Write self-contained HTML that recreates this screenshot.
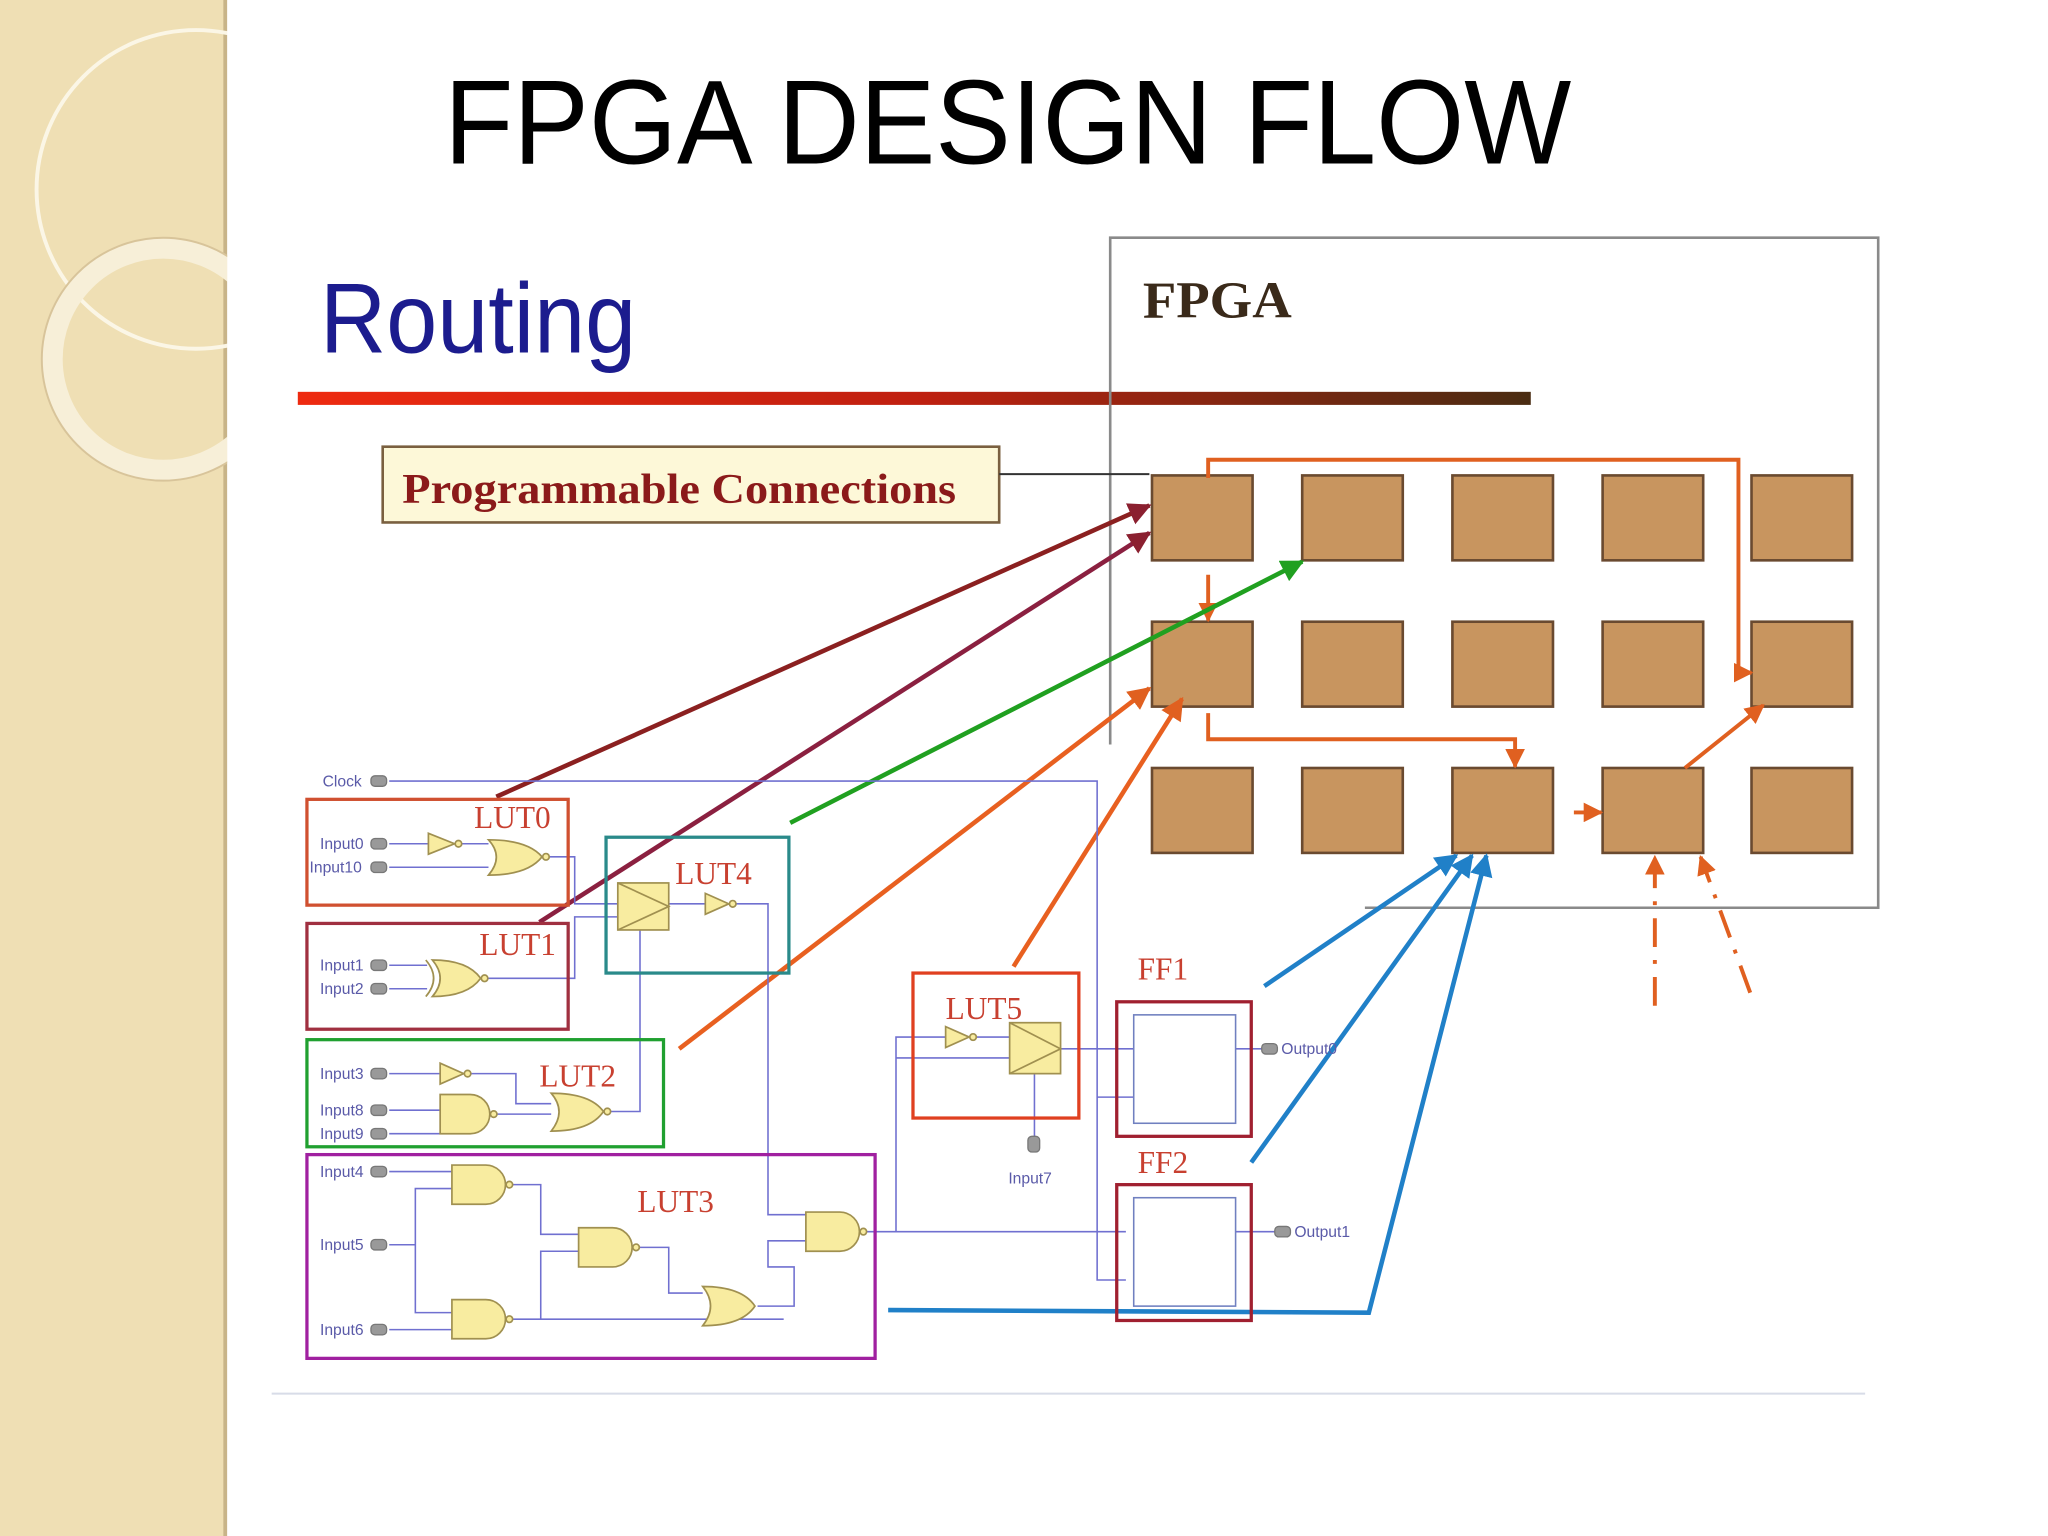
<!DOCTYPE html>
<html><head><style>
html,body{margin:0;padding:0;background:#fff;}
svg{display:block;}
</style></head><body>
<svg width="2048" height="1536" viewBox="0 0 1568 1176" preserveAspectRatio="none" xmlns="http://www.w3.org/2000/svg">
<defs>
<linearGradient id="g1" x1="0" x2="1" y1="0" y2="0">
<stop offset="0" stop-color="#ee2a10"/><stop offset="0.5" stop-color="#c02010"/><stop offset="1" stop-color="#4a2c12"/>
</linearGradient>
<marker id="ar" viewBox="0 0 10 10" refX="9" refY="5" markerWidth="5" markerHeight="5" orient="auto"><path d="M0,0L10,5L0,10z" fill="context-stroke"/></marker>
<marker id="am" viewBox="0 0 10 10" refX="9" refY="5" markerWidth="5" markerHeight="5" orient="auto"><path d="M0,0L10,5L0,10z" fill="#8b2030"/></marker>
<marker id="ag" viewBox="0 0 10 10" refX="9" refY="5" markerWidth="5" markerHeight="5" orient="auto"><path d="M0,0L10,5L0,10z" fill="#20a020"/></marker>
<marker id="ao" viewBox="0 0 10 10" refX="9" refY="5" markerWidth="5" markerHeight="5" orient="auto"><path d="M0,0L10,5L0,10z" fill="#e06020"/></marker>
<marker id="ab" viewBox="0 0 10 10" refX="9" refY="5" markerWidth="5" markerHeight="5" orient="auto"><path d="M0,0L10,5L0,10z" fill="#2080c8"/></marker>
</defs>
<rect width="1568" height="1176" fill="#fff"/>
<!-- sidebar -->
<rect x="0" y="0" width="173" height="1176" fill="#efdfb4"/>
<rect x="171" y="0" width="3" height="1176" fill="#c8b488"/>
<circle cx="150" cy="145" r="122" fill="none" stroke="#fbf6e6" stroke-width="3"/>
<circle cx="125" cy="275" r="85" fill="none" stroke="#f7efd8" stroke-width="16"/>
<circle cx="125" cy="275" r="93" fill="none" stroke="#d8c49a" stroke-width="1.5"/>
<rect x="174" y="0" width="1394" height="1176" fill="#fff"/>

<text x="340" y="125" font-family="Liberation Sans, sans-serif" font-size="92" fill="#000" textLength="863" lengthAdjust="spacingAndGlyphs">FPGA DESIGN FLOW</text>
<text x="245" y="270" font-family="Liberation Sans, sans-serif" font-size="76" fill="#1c1c8e" textLength="242" lengthAdjust="spacingAndGlyphs">Routing</text>
<rect x="228" y="300" width="944" height="10" fill="url(#g1)"/>

<!-- FPGA box -->
<path d="M850,570 V182 H1438 V695 H1045" fill="none" stroke="#8a8a8a" stroke-width="2"/>
<text x="875" y="243" font-family="Liberation Serif, serif" font-weight="bold" font-size="40" fill="#3a2a1a" textLength="114" lengthAdjust="spacingAndGlyphs">FPGA</text>

<rect x="293" y="342" width="472" height="58" fill="#fdf8d8" stroke="#7a6040" stroke-width="2"/>
<text x="308" y="385" font-family="Liberation Serif, serif" font-weight="bold" font-size="32" fill="#8b1a1a" textLength="424" lengthAdjust="spacingAndGlyphs">Programmable Connections</text>
<line x1="765" y1="363" x2="880" y2="363" stroke="#333" stroke-width="1.5"/>

<!-- tiles -->
<g fill="#c8955f" stroke="#6a4a30" stroke-width="2">
<rect x="882" y="364" width="77" height="65"/><rect x="997" y="364" width="77" height="65"/><rect x="1112" y="364" width="77" height="65"/><rect x="1227" y="364" width="77" height="65"/><rect x="1341" y="364" width="77" height="65"/>
<rect x="882" y="476" width="77" height="65"/><rect x="997" y="476" width="77" height="65"/><rect x="1112" y="476" width="77" height="65"/><rect x="1227" y="476" width="77" height="65"/><rect x="1341" y="476" width="77" height="65"/>
<rect x="882" y="588" width="77" height="65"/><rect x="997" y="588" width="77" height="65"/><rect x="1112" y="588" width="77" height="65"/><rect x="1227" y="588" width="77" height="65"/><rect x="1341" y="588" width="77" height="65"/>
</g>

<!-- orange routing in FPGA -->
<g fill="none" stroke="#e06020" stroke-width="3">
<path d="M925,366 V352 H1331 V515 H1341" marker-end="url(#ao)"/>
<path d="M925,440 V475" marker-end="url(#ao)"/>
<path d="M925,546 V566 H1160 V587" marker-end="url(#ao)"/>
<path d="M1205,622 H1226" marker-end="url(#ao)"/>
<path d="M1290,588 L1350,540" marker-end="url(#ao)"/>
<path d="M1267,770 V656" stroke-dasharray="22,10,3,10" marker-end="url(#ao)"/>
<path d="M1340,760 L1302,656" stroke-dasharray="22,10,3,10" marker-end="url(#ao)"/>
</g>

<!-- long arrows -->
<g fill="none" stroke-width="3.5">
<path d="M380,610 L880,387" stroke="#8b2020" marker-end="url(#am)"/>
<path d="M413,706 L880,408" stroke="#8b2040" marker-end="url(#am)"/>
<path d="M605,630 L997,430" stroke="#20a020" marker-end="url(#ag)"/>
<path d="M520,803 L880,527" stroke="#e86020" marker-end="url(#ao)"/>
<path d="M776,740 L905,535" stroke="#e86020" marker-end="url(#ao)"/>
<path d="M968,755 L1115,655" stroke="#2080c8" marker-end="url(#ab)"/>
<path d="M958,890 L1127,655" stroke="#2080c8" marker-end="url(#ab)"/>
<path d="M680,1003 L1048,1005 L1138,655" stroke="#2080c8" marker-end="url(#ab)"/>
</g>

<!-- schematic wires -->
<g fill="none" stroke="#7070d0" stroke-width="1.2">
<path d="M298,598 H840 V980 H862"/>
<path d="M298,646 H328 M350,646 H374"/>
<path d="M298,664 H374"/>
<path d="M420,656 H440 V692 H473"/>
<path d="M372,749 H440 V702 H473"/>
<path d="M512,692 H540 M562,692 H588 V930 H617"/>
<path d="M298,739 H327 M298,757 H327"/>
<path d="M298,822 H337 M360,822 H395 V845 H422"/>
<path d="M298,850 H337 M298,868 H337 M380,853 H422"/>
<path d="M466,851 H490 V712"/>
<path d="M298,897 H346 M298,953 H318 V910 H346 M318,953 V1005 H346 M298,1018 H346"/>
<path d="M390,907 H414 V945 H443 M414,1010 V958 H443 M390,1010 H600"/>
<path d="M487,955 H512 V990 H538 M580,1000 H608 V970 H588 V950 H617"/>
<path d="M660,943 H862"/>
<path d="M686,943 V794 H724 M746,794 H773 M686,810 H773"/>
<path d="M812,803 H868 M792,822 V870"/>
<path d="M946,803 H975 M946,943 H985"/>
<path d="M840,840 H868"/>
</g>

<!-- LUT boxes -->
<g fill="none" stroke-width="2.5">
<rect x="235" y="612" width="200" height="81" stroke="#d05030"/>
<rect x="235" y="707" width="200" height="81" stroke="#a03040"/>
<rect x="464" y="641" width="140" height="104" stroke="#2a8a8a"/>
<rect x="235" y="796" width="273" height="82" stroke="#20a030"/>
<rect x="235" y="884" width="435" height="156" stroke="#a020a0"/>
<rect x="699" y="745" width="127" height="111" stroke="#e04020"/>
<rect x="855" y="767" width="103" height="103" stroke="#a02030"/>
<rect x="855" y="907" width="103" height="104" stroke="#a02030"/>
</g>
<g fill="#fff" stroke="#7080c0" stroke-width="1.2">
<rect x="868" y="777" width="78" height="83"/>
<rect x="868" y="917" width="78" height="83"/>
</g>

<!-- gates -->
<g fill="#f8eca0" stroke="#a09050" stroke-width="1.3">
<path d="M328,638 L348,646 L328,654 Z"/><circle cx="351" cy="646" r="2.5"/>
<path d="M374,643 Q386,656 374,670 Q404,670 415,656 Q404,643 374,643 Z"/><circle cx="418" cy="656" r="2.5"/>
<path d="M331,735 Q343,749 331,763 Q358,763 368,749 Q358,735 331,735 Z"/><path d="M326,735 Q338,749 326,763" fill="none"/><circle cx="371" cy="749" r="2.5"/>
<rect x="473" y="676" width="39" height="36"/><path d="M473,676 L512,694 L473,712" fill="none"/>
<path d="M540,684 L558,692 L540,700 Z"/><circle cx="561" cy="692" r="2.5"/>
<path d="M337,814 L355,822 L337,830 Z"/><circle cx="358" cy="822" r="2.5"/>
<path d="M337,838 H360 A15,15 0 0 1 360,868 H337 Z"/><circle cx="378" cy="853" r="2.5"/>
<path d="M422,837 Q434,851 422,866 Q452,866 462,851 Q452,837 422,837 Z"/><circle cx="465" cy="851" r="2.5"/>
<path d="M346,892 H372 A15,15 0 0 1 372,922 H346 Z"/><circle cx="390" cy="907" r="2.5"/>
<path d="M443,940 H469 A15,15 0 0 1 469,970 H443 Z"/><circle cx="487" cy="955" r="2.5"/>
<path d="M346,995 H372 A15,15 0 0 1 372,1025 H346 Z"/><circle cx="390" cy="1010" r="2.5"/>
<path d="M538,985 Q550,1000 538,1015 Q568,1015 578,1000 Q568,985 538,985 Z"/>
<path d="M617,928 H643 A15,15 0 0 1 643,958 H617 Z"/><circle cx="661" cy="943" r="2.5"/>
<path d="M724,786 L742,794 L724,802 Z"/><circle cx="745" cy="794" r="2.5"/>
<rect x="773" y="783" width="39" height="39"/><path d="M773,783 L812,803 L773,822" fill="none"/>
</g>
<g fill="#999" stroke="#777" stroke-width="1">
<rect x="284" y="594" width="12" height="8" rx="3"/>
<rect x="284" y="642" width="12" height="8" rx="3"/><rect x="284" y="660" width="12" height="8" rx="3"/>
<rect x="284" y="735" width="12" height="8" rx="3"/><rect x="284" y="753" width="12" height="8" rx="3"/>
<rect x="284" y="818" width="12" height="8" rx="3"/><rect x="284" y="846" width="12" height="8" rx="3"/><rect x="284" y="864" width="12" height="8" rx="3"/>
<rect x="284" y="893" width="12" height="8" rx="3"/><rect x="284" y="949" width="12" height="8" rx="3"/><rect x="284" y="1014" width="12" height="8" rx="3"/>
<rect x="787" y="870" width="9" height="12" rx="3"/>
<rect x="966" y="799" width="12" height="8" rx="3"/><rect x="976" y="939" width="12" height="8" rx="3"/>
</g>

<g font-family="Liberation Sans, sans-serif" font-size="12" fill="#5a5aa8">
<text x="247" y="602">Clock</text>
<text x="245" y="650">Input0</text><text x="237" y="668">Input10</text>
<text x="245" y="743">Input1</text><text x="245" y="761">Input2</text>
<text x="245" y="826">Input3</text><text x="245" y="854">Input8</text><text x="245" y="872">Input9</text>
<text x="245" y="901">Input4</text><text x="245" y="957">Input5</text><text x="245" y="1022">Input6</text>
<text x="772" y="906">Input7</text>
<text x="981" y="807">Output0</text><text x="991" y="947">Output1</text>
</g>
<g font-family="Liberation Serif, serif" font-size="24" fill="#c84030">
<text x="363" y="634">LUT0</text>
<text x="367" y="731">LUT1</text>
<text x="517" y="677">LUT4</text>
<text x="413" y="832">LUT2</text>
<text x="488" y="928">LUT3</text>
<text x="724" y="780">LUT5</text>
<text x="871" y="750">FF1</text>
<text x="871" y="898">FF2</text>
</g>

<line x1="208" y1="1067" x2="1428" y2="1067" stroke="#d8dce8" stroke-width="1.5"/>
</svg>
</body></html>
